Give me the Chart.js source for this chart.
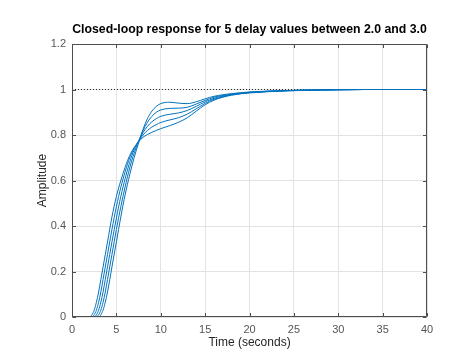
<!DOCTYPE html>
<html>
<head>
<meta charset="utf-8">
<script src="https://cdn.jsdelivr.net/npm/chart.js@4/dist/chart.umd.min.js"></script>
<style>
  html,body{margin:0;padding:0;background:#fff;}
  #wrap{width:474px;height:355px;}
</style>
</head>
<body>
<div id="wrap"><canvas id="c" width="474" height="355"></canvas></div>
<script>
// ---- data ----
const titleText = "Closed-loop response for 5 delay values between 2.0 and 3.0";
const xLabel = "Time (seconds)";
const yLabel = "Amplitude";
const delays = [2.0, 2.25, 2.5, 2.75, 3.0];
const times = [0,1,2,2.25,2.5,2.75,3,3.25,3.5,3.75,4,4.5,5,5.5,6,6.5,7,7.5,8,8.5,9,9.5,10,11,12,13,14,15,16,17,18,19,20,22,24,26,28,30,33,36,40];
const resp20 = [0,0,0,0.01,0.03,0.065,0.11,0.165,0.22,0.275,0.33,0.44,0.53,0.60,0.66,0.71,0.745,0.77,0.79,0.802,0.812,0.82,0.828,0.841,0.856,0.876,0.905,0.933,0.953,0.966,0.975,0.981,0.985,0.99,0.994,0.996,0.998,0.999,1,1,1];
const resp225 = [0,0,0,0,0.01,0.03,0.065,0.11,0.165,0.22,0.275,0.385,0.485,0.57,0.64,0.70,0.74,0.772,0.80,0.82,0.835,0.846,0.855,0.866,0.876,0.892,0.915,0.939,0.957,0.968,0.977,0.982,0.986,0.991,0.994,0.996,0.998,0.999,1,1,1];
const resp25 = [0,0,0,0,0,0.01,0.03,0.065,0.11,0.165,0.22,0.33,0.435,0.53,0.61,0.68,0.735,0.774,0.81,0.838,0.858,0.872,0.882,0.891,0.897,0.908,0.926,0.946,0.961,0.971,0.978,0.983,0.987,0.992,0.995,0.997,0.998,0.999,1,1,1];
const resp275 = [0,0,0,0,0,0,0.01,0.03,0.065,0.11,0.165,0.275,0.385,0.485,0.575,0.655,0.72,0.77,0.818,0.856,0.882,0.90,0.91,0.917,0.918,0.922,0.936,0.952,0.966,0.974,0.98,0.984,0.988,0.992,0.995,0.997,0.998,0.999,1,1,1];
const resp30 = [0,0,0,0,0,0,0,0.01,0.03,0.065,0.11,0.22,0.33,0.44,0.54,0.625,0.70,0.765,0.825,0.872,0.905,0.926,0.938,0.944,0.94,0.938,0.946,0.959,0.97,0.977,0.982,0.986,0.989,0.993,0.995,0.997,0.998,0.999,1,1,1];
const responses = [resp20, resp225, resp25, resp275, resp30];
const refLevel = 1;
const xTicks = [0,5,10,15,20,25,30,35,40];
const xTickLabels = ["0","5","10","15","20","25","30","35","40"];
const yTicks = [0,0.2,0.4,0.6,0.8,1,1.2];
const yTickLabels = ["0","0.2","0.4","0.6","0.8","1","1.2"];
const xRange = [0,40];
const yRange = [0,1.2];

// ---- build datasets ----
const datasets = responses.map((r,i)=>({
  label: "delay " + delays[i],
  data: times.map((t,k)=>({x:t, y:r[k]})),
  borderColor: "#0072BD",
  borderWidth: 1,
  pointRadius: 0,
  fill: false,
  cubicInterpolationMode: "monotone",
  order: 1
}));
datasets.push({
  label: "ref",
  data: [{x:xRange[0], y:refLevel},{x:xRange[1], y:refLevel}],
  borderColor: "#262626",
  borderWidth: 1,
  borderDash: [1,2],
  pointRadius: 0,
  fill: false,
  order: 2
});

const FONT = '"Liberation Sans", Arial, Helvetica, sans-serif';

const decor = {
  id: "decor",
  afterDraw(chart){
    const {ctx, chartArea:a, scales:{x, y}} = chart;
    ctx.save();
    const L = Math.round(a.left)+0.5, R = Math.round(a.right)-0.5;
    const T = Math.round(a.top)+0.5, B = Math.round(a.bottom)-0.5;
    ctx.strokeStyle = "#4d4d4d";
    ctx.lineWidth = 1;
    ctx.beginPath();
    ctx.rect(L, T, R-L, B-T);
    ctx.stroke();
    // inward tick marks
    ctx.beginPath();
    xTicks.forEach(v=>{
      const px = Math.round(x.getPixelForValue(v))+0.5;
      ctx.moveTo(px, B); ctx.lineTo(px, B-3.5);
      ctx.moveTo(px, T); ctx.lineTo(px, T+3.5);
    });
    yTicks.forEach(v=>{
      const py = Math.round(y.getPixelForValue(v))+0.5;
      ctx.moveTo(L, py); ctx.lineTo(L+3.5, py);
      ctx.moveTo(R, py); ctx.lineTo(R-3.5, py);
    });
    ctx.stroke();
    // title
    ctx.fillStyle = "#000";
    ctx.font = "bold 12.3px " + FONT;
    ctx.textAlign = "center";
    ctx.textBaseline = "alphabetic";
    ctx.fillText(titleText, (a.left+a.right)/2, 33);
    // x label
    ctx.fillStyle = "#262626";
    ctx.font = "12px " + FONT;
    ctx.fillText(xLabel, (a.left+a.right)/2, 346);
    // y label
    ctx.translate(43, (a.top+a.bottom)/2);
    ctx.rotate(-Math.PI/2);
    ctx.textBaseline = "middle";
    ctx.fillText(yLabel, 0, 0);
    ctx.restore();
  }
};

new Chart(document.getElementById("c"), {
  type: "line",
  data: { datasets },
  options: {
    responsive: false,
    animation: false,
    devicePixelRatio: 1,
    layout: { padding: { left: 0, right: 47, top: 44, bottom: 0 } },
    plugins: { legend: { display: false }, title: { display: false }, tooltip: { enabled: false } },
    scales: {
      x: {
        type: "linear",
        min: xRange[0], max: xRange[1],
        afterBuildTicks: s => { s.ticks = xTicks.map(v=>({value:v})); },
        afterFit: s => { s.height = 38; },
        grid: { color: "#e3e3e3", lineWidth: 1, drawTicks: false },
        border: { display: false },
        ticks: {
          padding: 6,
          color: "#555555",
          font: { family: FONT, size: 11 },
          maxRotation: 0,
          autoSkip: false,
          callback: (v, i) => xTickLabels[i]
        }
      },
      y: {
        type: "linear",
        min: yRange[0], max: yRange[1],
        afterBuildTicks: s => { s.ticks = yTicks.map(v=>({value:v})); },
        afterFit: s => { s.width = 72; },
        grid: { color: "#e3e3e3", lineWidth: 1, drawTicks: false },
        border: { display: false },
        ticks: {
          padding: 6,
          color: "#555555",
          font: { family: FONT, size: 11 },
          autoSkip: false,
          callback: (v, i) => yTickLabels[i]
        }
      }
    }
  },
  plugins: [decor]
});
</script>
</body>
</html>
